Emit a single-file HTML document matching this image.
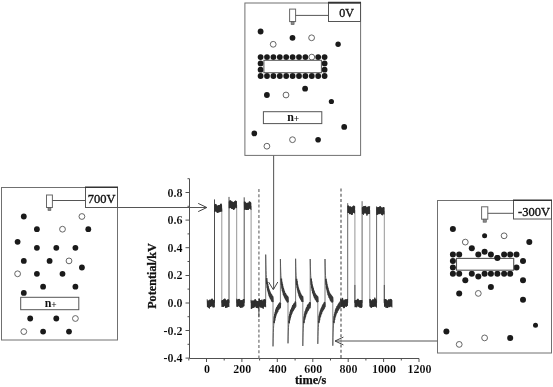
<!DOCTYPE html>
<html><head><meta charset="utf-8"><title>Potential vs time</title>
<style>
html,body{margin:0;padding:0;background:#fff;}
svg{display:block;}
.s{font-family:"Liberation Serif",serif;fill:#111;}
.sl{font-family:"Liberation Serif",serif;fill:#111;stroke:#111;stroke-width:0.35;}
.sx{font-family:"Liberation Serif",serif;font-weight:bold;fill:#111;stroke:#111;stroke-width:0.25;}
.sm{font-family:"Liberation Serif",serif;font-weight:bold;fill:#000;stroke:#fff;stroke-width:0.14;}
.sb{font-family:"Liberation Serif",serif;font-weight:bold;fill:#111;}
</style></head><body>
<svg width="553" height="387" viewBox="0 0 553 387">
<rect width="553" height="387" fill="#fff"/>
<rect x="244.9" y="3" width="115.7" height="152.4" fill="#fff" stroke="#707070" stroke-width="1"/>
<rect x="328.5" y="3" width="32" height="18.5" fill="#fff" stroke="#555" stroke-width="1"/><line x1="328" y1="2.6" x2="361" y2="2.6" stroke="#333" stroke-width="1.6"/>
<text x="346.6" y="17.3" font-size="12" text-anchor="middle" class="sl">0V</text>
<rect x="289.6" y="9.1" width="6" height="12.5" fill="#fff" stroke="#686868" stroke-width="1"/>
<rect x="291.1" y="21.6" width="3" height="3" fill="#888" stroke="#555" stroke-width="0.6"/>
<line x1="295.6" y1="15.4" x2="328.5" y2="15.4" stroke="#555" stroke-width="1"/>
<circle cx="260.6" cy="31.5" r="2.9" fill="#1a1a1a"/>
<circle cx="292.5" cy="37.8" r="2.9" fill="#1a1a1a"/>
<circle cx="338.1" cy="44.3" r="2.7" fill="#1a1a1a"/>
<circle cx="266.9" cy="95.0" r="2.9" fill="#1a1a1a"/>
<circle cx="305.1" cy="88.7" r="2.9" fill="#1a1a1a"/>
<circle cx="331.4" cy="101.5" r="2.6" fill="#1a1a1a"/>
<circle cx="254.3" cy="133.4" r="2.8" fill="#1a1a1a"/>
<circle cx="344.2" cy="126.9" r="2.9" fill="#1a1a1a"/>
<circle cx="318.1" cy="139.7" r="2.8" fill="#1a1a1a"/>
<circle cx="260.6" cy="57.1" r="2.9" fill="#1a1a1a"/>
<circle cx="260.6" cy="76.0" r="2.9" fill="#1a1a1a"/>
<circle cx="267.0" cy="57.1" r="2.9" fill="#1a1a1a"/>
<circle cx="267.0" cy="76.0" r="2.9" fill="#1a1a1a"/>
<circle cx="273.4" cy="57.1" r="2.9" fill="#1a1a1a"/>
<circle cx="273.4" cy="76.0" r="2.9" fill="#1a1a1a"/>
<circle cx="279.8" cy="57.1" r="2.9" fill="#1a1a1a"/>
<circle cx="279.8" cy="76.0" r="2.9" fill="#1a1a1a"/>
<circle cx="286.2" cy="57.1" r="2.9" fill="#1a1a1a"/>
<circle cx="286.2" cy="76.0" r="2.9" fill="#1a1a1a"/>
<circle cx="292.6" cy="57.1" r="2.9" fill="#1a1a1a"/>
<circle cx="292.6" cy="76.0" r="2.9" fill="#1a1a1a"/>
<circle cx="299.0" cy="57.1" r="2.9" fill="#1a1a1a"/>
<circle cx="299.0" cy="76.0" r="2.9" fill="#1a1a1a"/>
<circle cx="305.4" cy="57.1" r="2.9" fill="#1a1a1a"/>
<circle cx="305.4" cy="76.0" r="2.9" fill="#1a1a1a"/>
<circle cx="311.8" cy="76.0" r="2.9" fill="#1a1a1a"/>
<circle cx="318.2" cy="57.1" r="2.9" fill="#1a1a1a"/>
<circle cx="318.2" cy="76.0" r="2.9" fill="#1a1a1a"/>
<circle cx="324.6" cy="57.1" r="2.9" fill="#1a1a1a"/>
<circle cx="324.6" cy="76.0" r="2.9" fill="#1a1a1a"/>
<circle cx="260.6" cy="63.4" r="2.9" fill="#1a1a1a"/>
<circle cx="324.6" cy="63.4" r="2.9" fill="#1a1a1a"/>
<circle cx="260.6" cy="69.7" r="2.9" fill="#1a1a1a"/>
<circle cx="324.6" cy="69.7" r="2.9" fill="#1a1a1a"/>
<circle cx="311.6" cy="37.8" r="2.9" fill="#fff" stroke="#555" stroke-width="0.9"/>
<circle cx="273.2" cy="44.3" r="2.9" fill="#fff" stroke="#555" stroke-width="0.9"/>
<circle cx="286.0" cy="95.0" r="2.9" fill="#fff" stroke="#555" stroke-width="0.9"/>
<circle cx="266.9" cy="146.2" r="2.9" fill="#fff" stroke="#555" stroke-width="0.9"/>
<circle cx="292.5" cy="139.7" r="2.9" fill="#fff" stroke="#555" stroke-width="0.9"/>
<circle cx="311.8" cy="57.1" r="2.9" fill="#fff" stroke="#555" stroke-width="0.9"/>
<rect x="263.9" y="60.3" width="57.5" height="12.4" fill="#fff" stroke="#555" stroke-width="1"/>
<rect x="263.4" y="111.7" width="58.4" height="11.9" fill="#fff" stroke="#555" stroke-width="1"/>
<text x="293.3" y="121.3" font-size="12" text-anchor="middle" class="sb">n<tspan font-size="9.5" dx="-0.2" dy="0.8">+</tspan></text>
<line x1="273.6" y1="155.5" x2="273.6" y2="289" stroke="#606060" stroke-width="1.1"/>
<polyline points="268.6,282 273.3,289.7 277.8,282" fill="none" stroke="#444" stroke-width="1"/>
<rect x="1.5" y="187.5" width="116" height="152.5" fill="#fff" stroke="#707070" stroke-width="1"/>
<rect x="85.5" y="187.5" width="32" height="20" fill="#fff" stroke="#555" stroke-width="1"/><line x1="85" y1="187.2" x2="118" y2="187.2" stroke="#333" stroke-width="1.6"/>
<text x="101.7" y="203" font-size="12.5" text-anchor="middle" class="sl">700V</text>
<rect x="46.5" y="195" width="5.9" height="12.5" fill="#fff" stroke="#686868" stroke-width="1"/>
<rect x="48.0" y="207.5" width="2.9000000000000004" height="3" fill="#888" stroke="#555" stroke-width="0.6"/>
<line x1="52.4" y1="200.5" x2="85.5" y2="200.5" stroke="#555" stroke-width="1"/>
<circle cx="23.8" cy="216.5" r="2.9" fill="#1a1a1a"/>
<circle cx="36.9" cy="229.2" r="2.9" fill="#1a1a1a"/>
<circle cx="88.3" cy="229.2" r="2.9" fill="#1a1a1a"/>
<circle cx="17.6" cy="241.8" r="2.9" fill="#1a1a1a"/>
<circle cx="36.9" cy="247.8" r="2.9" fill="#1a1a1a"/>
<circle cx="56.3" cy="247.8" r="2.9" fill="#1a1a1a"/>
<circle cx="75.4" cy="247.8" r="2.9" fill="#1a1a1a"/>
<circle cx="23.8" cy="260.9" r="2.9" fill="#1a1a1a"/>
<circle cx="49.6" cy="260.9" r="2.9" fill="#1a1a1a"/>
<circle cx="81.9" cy="267.5" r="2.9" fill="#1a1a1a"/>
<circle cx="36.9" cy="273.8" r="2.9" fill="#1a1a1a"/>
<circle cx="62.5" cy="273.8" r="2.9" fill="#1a1a1a"/>
<circle cx="43.1" cy="286.7" r="2.9" fill="#1a1a1a"/>
<circle cx="75.4" cy="286.7" r="2.9" fill="#1a1a1a"/>
<circle cx="23.8" cy="292.9" r="2.9" fill="#1a1a1a"/>
<circle cx="30.2" cy="318.5" r="2.9" fill="#1a1a1a"/>
<circle cx="56.3" cy="318.5" r="2.9" fill="#1a1a1a"/>
<circle cx="43.1" cy="331.6" r="2.9" fill="#1a1a1a"/>
<circle cx="69.0" cy="331.6" r="2.9" fill="#1a1a1a"/>
<circle cx="81.9" cy="216.5" r="2.9" fill="#fff" stroke="#555" stroke-width="0.9"/>
<circle cx="62.5" cy="229.2" r="2.9" fill="#fff" stroke="#555" stroke-width="0.9"/>
<circle cx="69.0" cy="260.9" r="2.9" fill="#fff" stroke="#555" stroke-width="0.9"/>
<circle cx="17.6" cy="273.8" r="2.9" fill="#fff" stroke="#555" stroke-width="0.9"/>
<circle cx="75.4" cy="318.5" r="2.9" fill="#fff" stroke="#555" stroke-width="0.9"/>
<circle cx="23.8" cy="331.6" r="2.9" fill="#fff" stroke="#555" stroke-width="0.9"/>
<rect x="20.7" y="297.3" width="58.1" height="12.4" fill="#fff" stroke="#555" stroke-width="1"/>
<text x="50.8" y="307.3" font-size="12" text-anchor="middle" class="sb">n<tspan font-size="9.5" dx="-0.2" dy="0.8">+</tspan></text>
<line x1="117.5" y1="207.5" x2="206.5" y2="207.5" stroke="#555" stroke-width="1"/>
<polyline points="198.2,203.4 206.8,207.5 198.2,211.6" fill="none" stroke="#444" stroke-width="1"/>
<rect x="437.5" y="200.5" width="114" height="152.5" fill="#fff" stroke="#707070" stroke-width="1"/>
<rect x="513.5" y="200.5" width="38" height="18.5" fill="#fff" stroke="#555" stroke-width="1"/><line x1="513" y1="200.2" x2="552" y2="200.2" stroke="#333" stroke-width="1.6"/>
<text x="534" y="215.5" font-size="12.5" text-anchor="middle" class="sl">-300V</text>
<rect x="481.6" y="206.8" width="6.2" height="12.4" fill="#fff" stroke="#686868" stroke-width="1"/>
<rect x="483.1" y="219.20000000000002" width="3.2" height="3" fill="#888" stroke="#555" stroke-width="0.6"/>
<line x1="487.8" y1="213.3" x2="513.5" y2="213.3" stroke="#555" stroke-width="1"/>
<circle cx="452.9" cy="229.0" r="3.0" fill="#1a1a1a"/>
<circle cx="484.6" cy="235.8" r="2.5" fill="#1a1a1a"/>
<circle cx="529.3" cy="242.1" r="3.0" fill="#1a1a1a"/>
<circle cx="471.8" cy="248.3" r="3.0" fill="#1a1a1a"/>
<circle cx="452.9" cy="254.6" r="3.0" fill="#1a1a1a"/>
<circle cx="459.2" cy="254.6" r="3.0" fill="#1a1a1a"/>
<circle cx="478.3" cy="254.6" r="3.0" fill="#1a1a1a"/>
<circle cx="484.6" cy="251.8" r="3.0" fill="#1a1a1a"/>
<circle cx="490.9" cy="254.6" r="3.0" fill="#1a1a1a"/>
<circle cx="497.4" cy="258.1" r="3.0" fill="#1a1a1a"/>
<circle cx="504.1" cy="254.6" r="3.0" fill="#1a1a1a"/>
<circle cx="510.2" cy="254.6" r="3.0" fill="#1a1a1a"/>
<circle cx="516.5" cy="254.6" r="3.0" fill="#1a1a1a"/>
<circle cx="452.9" cy="260.9" r="3.0" fill="#1a1a1a"/>
<circle cx="452.9" cy="267.4" r="3.0" fill="#1a1a1a"/>
<circle cx="452.9" cy="273.8" r="3.0" fill="#1a1a1a"/>
<circle cx="523.0" cy="260.9" r="3.0" fill="#1a1a1a"/>
<circle cx="516.5" cy="267.4" r="3.0" fill="#1a1a1a"/>
<circle cx="459.2" cy="273.8" r="3.0" fill="#1a1a1a"/>
<circle cx="471.8" cy="273.8" r="3.0" fill="#1a1a1a"/>
<circle cx="478.3" cy="276.6" r="3.0" fill="#1a1a1a"/>
<circle cx="484.6" cy="273.8" r="3.0" fill="#1a1a1a"/>
<circle cx="490.9" cy="273.8" r="3.0" fill="#1a1a1a"/>
<circle cx="497.4" cy="273.8" r="3.0" fill="#1a1a1a"/>
<circle cx="504.1" cy="273.8" r="3.0" fill="#1a1a1a"/>
<circle cx="510.2" cy="273.8" r="3.0" fill="#1a1a1a"/>
<circle cx="465.3" cy="280.2" r="3.0" fill="#1a1a1a"/>
<circle cx="523.0" cy="280.2" r="3.0" fill="#1a1a1a"/>
<circle cx="490.9" cy="286.9" r="3.0" fill="#1a1a1a"/>
<circle cx="459.2" cy="293.4" r="3.0" fill="#1a1a1a"/>
<circle cx="523.0" cy="299.7" r="3.0" fill="#1a1a1a"/>
<circle cx="535.5" cy="325.3" r="2.5" fill="#1a1a1a"/>
<circle cx="446.4" cy="331.6" r="3.0" fill="#1a1a1a"/>
<circle cx="510.2" cy="337.9" r="3.0" fill="#1a1a1a"/>
<circle cx="504.1" cy="235.8" r="2.9" fill="#fff" stroke="#555" stroke-width="0.9"/>
<circle cx="465.3" cy="242.1" r="2.9" fill="#fff" stroke="#555" stroke-width="0.9"/>
<circle cx="478.3" cy="293.4" r="2.9" fill="#fff" stroke="#555" stroke-width="0.9"/>
<circle cx="484.6" cy="337.9" r="2.9" fill="#fff" stroke="#555" stroke-width="0.9"/>
<circle cx="459.2" cy="344.4" r="2.9" fill="#fff" stroke="#555" stroke-width="0.9"/>
<rect x="456.5" y="258.4" width="57.2" height="11.8" fill="#fff" stroke="#555" stroke-width="1.1"/>
<circle cx="497.4" cy="258.0" r="3.0" fill="#1a1a1a"/>
<line x1="335.3" y1="341" x2="437.5" y2="341" stroke="#555" stroke-width="1"/>
<polyline points="343.4,337.1 335,341 343.4,344.9" fill="none" stroke="#444" stroke-width="1"/>
<path d="M189.5 178.7V358.5H419.0" fill="none" stroke="#505050" stroke-width="1"/>
<path d="M189.5 358.1h-4 M189.5 344.3h-2 M189.5 330.5h-4 M189.5 316.7h-2 M189.5 303.0h-4 M189.5 289.1h-2 M189.5 275.5h-4 M189.5 261.5h-2 M189.5 247.7h-4 M189.5 233.9h-2 M189.5 220.1h-4 M189.5 206.3h-2 M189.5 192.5h-4 M189.5 178.7h-2 M188.8 358.5v2 M206.5 358.5v3.5 M224.2 358.5v2 M241.9 358.5v3.5 M259.6 358.5v2 M277.3 358.5v3.5 M295.1 358.5v2 M312.8 358.5v3.5 M330.5 358.5v2 M348.2 358.5v3.5 M365.9 358.5v2 M383.6 358.5v3.5 M401.3 358.5v2 M419.0 358.5v3.5" fill="none" stroke="#505050" stroke-width="1"/>
<text x="182.5" y="196.6" font-size="12" text-anchor="end" class="sm">0.8</text>
<text x="182.5" y="224.2" font-size="12" text-anchor="end" class="sm">0.6</text>
<text x="182.5" y="251.8" font-size="12" text-anchor="end" class="sm">0.4</text>
<text x="182.5" y="279.4" font-size="12" text-anchor="end" class="sm">0.2</text>
<text x="182.5" y="307.0" font-size="12" text-anchor="end" class="sm">0.0</text>
<text x="182.5" y="334.6" font-size="12" text-anchor="end" class="sm">-0.2</text>
<text x="182.5" y="362.2" font-size="12" text-anchor="end" class="sm">-0.4</text>
<text x="206.9" y="373.4" font-size="12" text-anchor="middle" class="sm">0</text>
<text x="242.3" y="373.4" font-size="12" text-anchor="middle" class="sm">200</text>
<text x="277.7" y="373.4" font-size="12" text-anchor="middle" class="sm">400</text>
<text x="313.2" y="373.4" font-size="12" text-anchor="middle" class="sm">600</text>
<text x="348.6" y="373.4" font-size="12" text-anchor="middle" class="sm">800</text>
<text x="384.0" y="373.4" font-size="12" text-anchor="middle" class="sm">1000</text>
<text x="419.4" y="373.4" font-size="12" text-anchor="middle" class="sm">1200</text>
<text x="310.6" y="384.4" font-size="12.3" text-anchor="middle" class="sx">time/s</text>
<text transform="translate(155.5,276) rotate(-90)" font-size="12.2" text-anchor="middle" class="sx">Potential/kV</text>
<line x1="258.9" y1="189" x2="258.9" y2="358.5" stroke="#8c8c8c" stroke-width="1.5" stroke-dasharray="3 2.2"/>
<line x1="341" y1="188.6" x2="341" y2="358.5" stroke="#8c8c8c" stroke-width="1.7" stroke-dasharray="3 2.2"/>
<line x1="214.50" y1="302.90" x2="214.50" y2="199.40" stroke="#3a3a3a" stroke-width="0.9"/>
<line x1="221.80" y1="208.51" x2="221.80" y2="302.90" stroke="#8a8a8a" stroke-width="0.9"/>
<line x1="229.00" y1="302.90" x2="229.00" y2="196.92" stroke="#3a3a3a" stroke-width="0.9"/>
<line x1="236.70" y1="204.92" x2="236.70" y2="302.90" stroke="#8a8a8a" stroke-width="0.9"/>
<line x1="244.20" y1="302.90" x2="244.20" y2="197.33" stroke="#3a3a3a" stroke-width="0.9"/>
<line x1="251.10" y1="205.89" x2="251.10" y2="302.90" stroke="#8a8a8a" stroke-width="0.9"/>
<line x1="258.90" y1="302.90" x2="258.90" y2="317.39" stroke="#3a3a3a" stroke-width="0.9"/>
<line x1="265.70" y1="302.90" x2="265.70" y2="254.60" stroke="#666" stroke-width="0.9"/>
<line x1="273.00" y1="297.38" x2="273.00" y2="346.37" stroke="#777" stroke-width="0.9"/>
<line x1="280.40" y1="305.66" x2="280.40" y2="259.02" stroke="#666" stroke-width="0.9"/>
<line x1="288.00" y1="297.38" x2="288.00" y2="343.33" stroke="#777" stroke-width="0.9"/>
<line x1="295.60" y1="305.66" x2="295.60" y2="258.74" stroke="#666" stroke-width="0.9"/>
<line x1="302.80" y1="297.38" x2="302.80" y2="345.96" stroke="#777" stroke-width="0.9"/>
<line x1="310.20" y1="305.66" x2="310.20" y2="259.02" stroke="#666" stroke-width="0.9"/>
<line x1="317.80" y1="297.38" x2="317.80" y2="343.89" stroke="#777" stroke-width="0.9"/>
<line x1="325.00" y1="305.66" x2="325.00" y2="259.02" stroke="#666" stroke-width="0.9"/>
<line x1="332.80" y1="297.38" x2="332.80" y2="345.68" stroke="#777" stroke-width="0.9"/>
<line x1="347.70" y1="302.90" x2="347.70" y2="203.13" stroke="#555" stroke-width="0.9"/>
<line x1="354.90" y1="210.16" x2="354.90" y2="302.90" stroke="#8a8a8a" stroke-width="0.9"/>
<line x1="354.90" y1="302.90" x2="354.90" y2="284.96" stroke="#444" stroke-width="0.9"/>
<line x1="362.10" y1="302.90" x2="362.10" y2="201.19" stroke="#555" stroke-width="0.9"/>
<line x1="369.80" y1="210.16" x2="369.80" y2="302.90" stroke="#8a8a8a" stroke-width="0.9"/>
<line x1="376.60" y1="302.90" x2="376.60" y2="206.30" stroke="#555" stroke-width="0.9"/>
<line x1="384.30" y1="210.72" x2="384.30" y2="302.90" stroke="#8a8a8a" stroke-width="0.9"/>
<line x1="384.30" y1="302.90" x2="384.30" y2="284.96" stroke="#444" stroke-width="0.9"/>
<path d="M207.20 299.31 L207.45 306.85 L207.70 300.62 L207.94 307.18 L208.19 301.05 L208.44 307.57 L208.69 300.79 L208.94 307.33 L209.18 300.03 L209.43 308.47 L209.68 299.72 L209.93 306.75 L210.18 300.27 L210.42 306.80 L210.67 299.83 L210.92 306.65 L211.17 299.65 L211.41 306.09 L211.66 298.93 L211.91 305.68 L212.16 298.71 L212.41 306.03 L212.65 299.66 L212.90 307.20 L213.15 299.96 L213.40 307.34 L213.65 300.68 L213.89 306.90 L214.14 299.97 L214.39 307.36M214.59 204.83 L214.84 211.93 L215.08 204.49 L215.33 210.85 L215.58 203.98 L215.83 211.32 L216.08 204.42 L216.32 211.28 L216.57 205.39 L216.82 212.15 L217.07 206.11 L217.32 212.80 L217.56 206.19 L217.81 212.67 L218.06 205.20 L218.31 212.04 L218.56 205.28 L218.80 212.48 L219.05 205.49 L219.30 212.03 L219.55 205.18 L219.80 211.65 L220.04 204.90 L220.29 211.77 L220.54 204.14 L220.79 211.06 L221.03 203.67 L221.28 211.42 L221.53 204.61 L221.78 211.59M221.80 300.58 L222.05 306.89 L222.30 300.21 L222.54 306.36 L222.79 300.08 L223.04 306.81 L223.29 299.99 L223.54 306.61 L223.78 299.34 L224.03 306.30 L224.28 299.43 L224.53 305.75 L224.78 298.62 L225.02 305.60 L225.27 299.30 L225.52 307.79 L225.77 300.16 L226.01 307.75 L226.26 300.88 L226.51 307.39 L226.76 300.52 L227.01 307.15 L227.25 299.89 L227.50 307.24 L227.75 299.76 L228.00 306.80 L228.25 299.23 L228.49 306.71 L228.74 300.18 L228.99 307.05M229.09 201.49 L229.34 208.23 L229.58 201.30 L229.83 207.74 L230.08 200.17 L230.33 207.44 L230.58 200.82 L230.82 208.05 L231.07 200.92 L231.32 208.12 L231.57 201.73 L231.82 208.99 L232.06 201.72 L232.31 208.70 L232.56 201.84 L232.81 208.89 L233.06 202.07 L233.30 209.36 L233.55 202.36 L233.80 209.99 L234.05 201.94 L234.30 209.04 L234.54 201.73 L234.79 208.45 L235.04 201.04 L235.29 207.34 L235.53 200.70 L235.78 207.28 L236.03 200.93 L236.28 208.08 L236.53 201.31M236.70 298.70 L236.95 306.68 L237.20 300.21 L237.44 306.56 L237.69 299.64 L237.94 306.47 L238.19 299.36 L238.44 305.77 L238.68 299.10 L238.93 306.00 L239.18 298.91 L239.43 306.53 L239.68 299.58 L239.92 307.06 L240.17 300.48 L240.42 307.58 L240.67 300.50 L240.91 307.83 L241.16 300.29 L241.41 307.37 L241.66 300.34 L241.91 306.67 L242.15 300.44 L242.40 307.36 L242.65 300.45 L242.90 307.14 L243.15 299.51 L243.39 306.20 L243.64 299.18 L243.89 306.17 L244.14 299.00M244.29 201.75 L244.54 209.68 L244.78 201.55 L245.03 208.49 L245.28 202.23 L245.53 209.37 L245.78 202.88 L246.02 209.93 L246.27 203.64 L246.52 209.92 L246.77 202.98 L247.02 209.91 L247.26 202.85 L247.51 209.56 L247.76 202.91 L248.01 209.76 L248.26 202.99 L248.50 209.61 L248.75 202.63 L249.00 208.60 L249.25 201.68 L249.50 208.40 L249.74 201.50 L249.99 208.42 L250.24 202.05 L250.49 208.76 L250.73 202.70 L250.98 210.02M251.10 299.96 L251.35 308.93 L251.60 301.16 L251.84 308.05 L252.09 300.86 L252.34 308.20 L252.59 300.82 L252.84 307.60 L253.08 300.59 L253.33 307.64 L253.58 300.71 L253.83 307.74 L254.08 301.07 L254.32 307.07 L254.57 300.29 L254.82 306.38 L255.07 299.21 L255.31 306.22 L255.56 299.72 L255.81 306.55 L256.06 300.44 L256.31 307.96 L256.55 301.12 L256.80 307.87 L257.05 301.44 L257.30 307.90 L257.55 301.08 L257.79 307.37 L258.04 301.15 L258.29 308.49 L258.54 301.26 L258.79 308.22M258.99 298.96 L259.24 305.89 L259.48 298.74 L259.73 306.50 L259.98 300.08 L260.23 307.33 L260.48 300.14 L260.72 307.12 L260.97 300.43 L261.22 307.56 L261.47 300.24 L261.72 307.41 L261.96 299.65 L262.21 307.28 L262.46 301.12 L262.71 307.95 L262.96 300.83 L263.20 308.73 L263.45 300.16 L263.70 306.92 L263.95 299.42 L264.20 306.38 L264.44 299.45 L264.69 306.32 L264.94 299.21 L265.19 306.62 L265.43 299.93 L265.68 307.23M340.60 298.88 L340.85 306.50 L341.10 299.62 L341.34 306.88 L341.59 299.73 L341.84 306.26 L342.09 299.73 L342.34 306.58 L342.58 297.91 L342.83 306.39 L343.08 299.65 L343.33 307.26 L343.58 300.79 L343.82 308.20 L344.07 300.67 L344.32 307.91 L344.57 300.29 L344.81 306.82 L345.06 299.48 L345.31 306.23 L345.56 299.66 L345.81 306.11 L346.05 299.73 L346.30 306.88 L346.55 299.76 L346.80 306.07 L347.05 299.07 L347.29 305.82 L347.54 298.92M347.79 205.89 L348.04 212.94 L348.28 205.54 L348.53 212.80 L348.78 206.10 L349.03 212.95 L349.28 206.56 L349.52 213.78 L349.77 207.04 L350.02 214.26 L350.27 206.61 L350.52 213.85 L350.76 206.64 L351.01 213.58 L351.26 207.44 L351.51 214.66 L351.76 207.15 L352.00 214.72 L352.25 207.51 L352.50 214.29 L352.75 206.50 L353.00 212.89 L353.24 206.11 L353.49 212.45 L353.74 205.61 L353.99 212.51 L354.23 206.07 L354.48 213.29 L354.73 206.43M354.90 300.39 L355.15 307.20 L355.40 300.30 L355.64 306.94 L355.89 300.27 L356.14 307.00 L356.39 300.29 L356.64 307.28 L356.88 299.88 L357.13 306.55 L357.38 299.45 L357.63 305.71 L357.88 298.81 L358.12 305.79 L358.37 299.53 L358.62 306.61 L358.87 300.25 L359.11 307.07 L359.36 300.64 L359.61 307.34 L359.86 300.57 L360.11 307.35 L360.35 300.34 L360.60 307.44 L360.85 300.28 L361.10 307.70 L361.35 300.20 L361.59 307.69 L361.84 300.08 L362.09 306.85M362.19 207.51 L362.44 213.93 L362.68 206.98 L362.93 213.66 L363.18 206.85 L363.43 214.79 L363.68 206.33 L363.92 213.62 L364.17 206.39 L364.42 213.18 L364.67 206.10 L364.92 212.75 L365.16 206.12 L365.41 212.79 L365.66 205.91 L365.91 213.44 L366.16 206.98 L366.40 214.00 L366.65 207.87 L366.90 215.60 L367.15 207.36 L367.40 214.39 L367.64 207.02 L367.89 213.82 L368.14 206.46 L368.39 214.07 L368.63 206.72 L368.88 213.64 L369.13 206.85 L369.38 213.91 L369.63 206.11M369.80 298.95 L370.05 306.52 L370.30 299.28 L370.54 306.87 L370.79 300.56 L371.04 307.65 L371.29 301.24 L371.54 307.57 L371.78 300.55 L372.03 307.09 L372.28 300.37 L372.53 306.87 L372.78 299.38 L373.02 306.66 L373.27 300.00 L373.52 306.81 L373.77 299.50 L374.01 306.95 L374.26 299.51 L374.51 306.07 L374.76 297.67 L375.01 306.10 L375.25 298.91 L375.50 306.33 L375.75 298.87 L376.00 306.76 L376.25 300.43 L376.49 307.68M376.69 207.13 L376.94 214.87 L377.18 208.39 L377.43 214.49 L377.68 207.31 L377.93 214.13 L378.18 207.18 L378.42 213.62 L378.67 207.23 L378.92 214.24 L379.17 207.11 L379.42 213.55 L379.66 206.77 L379.91 213.69 L380.16 206.13 L380.41 213.18 L380.66 206.90 L380.90 213.73 L381.15 207.60 L381.40 214.27 L381.65 207.70 L381.90 214.95 L382.14 208.22 L382.39 215.25 L382.64 207.93 L382.89 214.11 L383.13 207.08 L383.38 213.78 L383.63 207.03 L383.88 214.41 L384.13 207.51M384.30 299.35 L384.55 306.51 L384.80 299.39 L385.04 306.61 L385.29 299.35 L385.54 306.26 L385.79 299.07 L386.04 307.84 L386.28 299.81 L386.53 307.07 L386.78 300.11 L387.03 307.90 L387.28 301.08 L387.52 307.99 L387.77 300.65 L388.02 307.40 L388.27 299.93 L388.51 306.63 L388.76 299.41 L389.01 306.08 L389.26 299.70 L389.51 307.10 L389.75 299.86 L390.00 306.41 L390.25 298.93 L390.50 306.46 L390.75 299.05 L390.99 305.73 L391.24 299.27 L391.49 306.58 L391.74 300.08 L391.99 307.44" fill="none" stroke="#2e2e2e" stroke-width="0.9" stroke-linejoin="round"/>
<path d="M265.70 254.60 L265.88 264.12 L266.05 270.38 L266.23 274.62 L266.41 277.62 L266.59 279.84 L266.76 281.58M273.00 346.37 L273.18 338.18 L273.35 332.42 L273.53 328.29 L273.71 325.27 L273.89 322.99 L274.06 321.24M280.40 259.02 L280.58 266.80 L280.75 272.00 L280.93 275.60 L281.11 278.21 L281.29 280.21 L281.46 281.80M288.00 343.33 L288.18 336.15 L288.35 331.06 L288.53 327.38 L288.71 324.65 L288.89 322.58 L289.06 320.96M295.60 258.74 L295.78 266.64 L295.95 271.90 L296.13 275.54 L296.31 278.18 L296.49 280.18 L296.66 281.79M302.80 345.96 L302.98 337.91 L303.15 332.23 L303.33 328.17 L303.51 325.18 L303.69 322.94 L303.86 321.20M310.20 259.02 L310.38 266.80 L310.55 272.00 L310.73 275.60 L310.91 278.21 L311.09 280.21 L311.26 281.80M317.80 343.89 L317.98 336.52 L318.15 331.30 L318.33 327.54 L318.51 324.77 L318.69 322.66 L318.86 321.01M325.00 259.02 L325.18 266.80 L325.35 272.00 L325.53 275.60 L325.71 278.21 L325.89 280.21 L326.06 281.80M332.80 345.68 L332.98 337.72 L333.15 332.11 L333.33 328.08 L333.51 325.13 L333.69 322.90 L333.86 321.17" fill="none" stroke="#555" stroke-width="0.9" stroke-linejoin="round"/>
<path d="M266.59 278.12 L266.83 283.86 L267.08 281.97 L267.33 287.62 L267.58 284.22 L267.83 290.12 L268.07 286.59 L268.32 291.91 L268.57 288.89 L268.82 293.86 L269.06 289.99 L269.31 295.71 L269.56 291.38 L269.81 296.67 L270.06 292.72 L270.30 297.94 L270.55 293.81 L270.80 298.63 L271.05 294.36 L271.30 299.54 L271.54 295.08 L271.79 300.88 L272.04 296.55 L272.29 301.12 L272.54 296.48 L272.78 302.09M273.89 321.38 L274.13 322.45 L274.38 316.82 L274.63 320.22 L274.88 314.24 L275.13 317.76 L275.37 312.40 L275.62 316.00 L275.87 310.16 L276.12 314.21 L276.36 308.90 L276.61 313.24 L276.86 307.63 L277.11 312.26 L277.36 307.10 L277.60 311.40 L277.85 305.92 L278.10 309.77 L278.35 305.46 L278.60 309.34 L278.84 304.32 L279.09 308.46 L279.34 303.89 L279.59 307.84 L279.84 303.13 L280.08 307.67 L280.33 302.84M281.29 278.42 L281.53 284.56 L281.78 282.08 L282.03 288.22 L282.28 284.27 L282.53 290.62 L282.77 286.83 L283.02 292.21 L283.27 288.61 L283.52 294.46 L283.76 290.06 L284.01 295.43 L284.26 291.59 L284.51 296.66 L284.76 293.11 L285.00 297.64 L285.25 293.51 L285.50 298.77 L285.75 294.33 L286.00 299.58 L286.24 295.67 L286.49 300.53 L286.74 296.41 L286.99 301.04 L287.24 296.36 L287.48 302.02 L287.73 296.99 L287.98 302.28M288.89 320.70 L289.13 322.68 L289.38 316.41 L289.63 319.95 L289.88 314.33 L290.13 317.86 L290.37 312.13 L290.62 316.18 L290.87 310.41 L291.12 314.34 L291.36 309.54 L291.61 313.58 L291.86 308.26 L292.11 312.07 L292.36 307.00 L292.60 310.90 L292.85 305.71 L293.10 310.56 L293.35 305.25 L293.60 309.48 L293.84 304.45 L294.09 308.67 L294.34 303.68 L294.59 307.70 L294.84 303.26 L295.08 307.15 L295.33 302.09 L295.58 306.87M296.49 278.70 L296.73 284.60 L296.98 281.36 L297.23 287.82 L297.48 284.74 L297.73 290.03 L297.97 286.99 L298.22 292.18 L298.47 288.86 L298.72 293.83 L298.96 290.34 L299.21 295.61 L299.46 291.21 L299.71 297.05 L299.96 292.81 L300.20 297.90 L300.45 293.76 L300.70 298.84 L300.95 294.82 L301.20 299.42 L301.44 295.66 L301.69 300.90 L301.94 296.46 L302.19 301.15 L302.44 296.63 L302.68 302.00M303.69 321.46 L303.93 322.42 L304.18 316.77 L304.43 319.76 L304.68 314.04 L304.93 318.07 L305.17 311.82 L305.42 316.29 L305.67 310.93 L305.92 314.13 L306.16 308.99 L306.41 313.56 L306.66 307.97 L306.91 312.16 L307.16 307.29 L307.40 310.98 L307.65 305.56 L307.90 310.43 L308.15 304.76 L308.40 309.74 L308.64 304.49 L308.89 308.30 L309.14 303.88 L309.39 307.99 L309.64 302.83 L309.88 307.76 L310.13 302.25M311.09 278.48 L311.33 284.51 L311.58 281.81 L311.83 287.91 L312.08 284.83 L312.33 290.52 L312.57 286.87 L312.82 292.66 L313.07 288.40 L313.32 293.89 L313.56 290.44 L313.81 295.34 L314.06 291.42 L314.31 297.01 L314.56 293.06 L314.80 297.61 L315.05 293.76 L315.30 299.01 L315.55 294.78 L315.80 299.56 L316.04 295.39 L316.29 300.11 L316.54 296.32 L316.79 301.12 L317.04 296.36 L317.28 301.82 L317.53 296.93 L317.78 302.15M318.69 321.17 L318.93 322.24 L319.18 316.10 L319.43 319.96 L319.68 314.13 L319.93 317.28 L320.17 312.10 L320.42 316.12 L320.67 310.59 L320.92 314.31 L321.16 309.02 L321.41 313.58 L321.66 308.18 L321.91 311.70 L322.16 307.01 L322.40 311.01 L322.65 305.76 L322.90 309.91 L323.15 304.81 L323.40 309.55 L323.64 304.28 L323.89 308.38 L324.14 303.21 L324.39 307.81 L324.64 302.72 L324.88 307.17M325.89 278.73 L326.13 284.51 L326.38 281.94 L326.63 288.24 L326.88 284.45 L327.13 290.03 L327.37 286.88 L327.62 292.25 L327.87 288.39 L328.12 294.42 L328.36 290.43 L328.61 295.46 L328.86 291.77 L329.11 297.24 L329.36 293.03 L329.60 297.60 L329.85 294.15 L330.10 298.86 L330.35 294.36 L330.60 300.10 L330.84 295.28 L331.09 300.93 L331.34 295.80 L331.59 301.01 L331.84 297.00 L332.08 302.06 L332.33 297.05 L332.58 301.78M333.69 321.16 L333.93 322.47 L334.18 316.66 L334.43 319.69 L334.68 314.27 L334.93 317.28 L335.17 312.29 L335.42 315.86 L335.67 310.15 L335.92 314.21 L336.16 308.78 L336.41 312.99 L336.66 308.07 L336.91 312.36 L337.16 306.61 L337.40 311.02 L337.65 306.28 L337.90 310.14 L338.15 305.16 L338.40 309.70 L338.64 304.54 L338.89 308.51 L339.14 303.27 L339.39 307.58 L339.64 303.05 L339.88 307.65 L340.13 302.21 L340.38 306.49" fill="none" stroke="#383838" stroke-width="1.7" stroke-linejoin="round"/>
</svg>
</body></html>
